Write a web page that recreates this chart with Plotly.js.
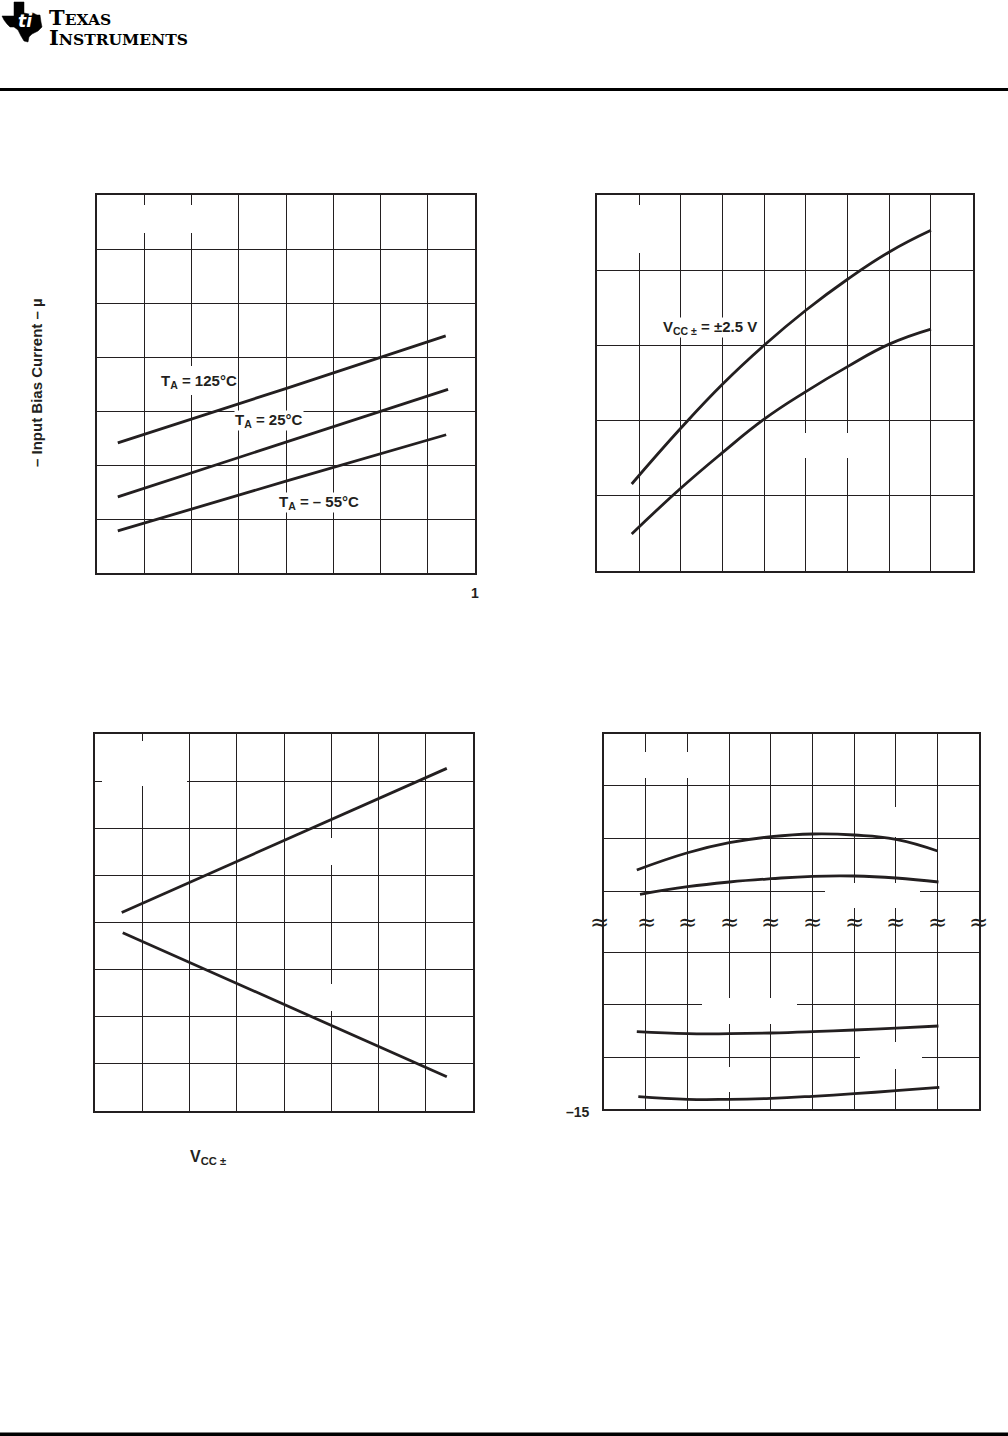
<!DOCTYPE html>
<html>
<head>
<meta charset="utf-8">
<script src="https://cdn.plot.ly/plotly-3.0.1.min.js"></script>
<style>
  html, body { margin: 0; padding: 0; background: #fff; }
  #page { width: 1008px; height: 1436px; }
</style>
</head>
<body>
<div id="page"></div>
<script>
// ---------------- data ----------------
// Chart 1 (top-left): input bias current vs. x, three temperatures
const c1_x125 = [0.44, 4.01, 7.38];
const c1_y125 = [2.41, 3.42, 4.39];
const c1_x25  = [0.44, 4.00, 7.43];
const c1_y25  = [1.41, 2.43, 3.40];
const c1_x55  = [0.44, 4.00, 7.39];
const c1_y55  = [0.78, 1.70, 2.56];
const c1_labels = ["T<sub>A</sub> = 125°C", "T<sub>A</sub> = 25°C", "T<sub>A</sub> = – 55°C"];

// Chart 2 (top-right): two rising curves
const c2_x      = [0.825, 2, 3, 4, 5, 6, 7, 8];
const c2_upper  = [1.154, 1.895, 2.481, 3.000, 3.466, 3.879, 4.242, 4.530];
const c2_lower  = [0.489, 1.097, 1.571, 2.016, 2.383, 2.716, 3.015, 3.215];
const c2_label  = "V<sub>CC ±</sub> = ±2.5 V";

// Chart 3 (bottom-left): one rising and one falling line
const c3_xUp   = [0.571, 7.44];
const c3_yUp   = [4.21, 7.27];
const c3_xDown = [0.592, 7.44];
const c3_yDown = [3.78, 0.72];
const c3_xlabel = "V<sub>CC ±</sub>";

// Chart 4 (bottom-right): broken y axis, four curves
const c4_gridY = [1.0, 2.008, 3.002, 4.174, 5.182, 6.182];
const c4_xA = [0.78, 2, 3, 4, 5, 6, 7, 8.0];
const c4_yA = [4.576, 4.906, 5.098, 5.212, 5.264, 5.245, 5.163, 4.939];
const c4_xB = [0.857, 2, 3, 4, 5, 6, 7, 8.02];
const c4_yB = [4.111, 4.256, 4.346, 4.409, 4.455, 4.461, 4.423, 4.346];
const c4_xC = [0.78, 2, 3, 4, 5, 6, 7, 8.02];
const c4_yC = [1.484, 1.446, 1.446, 1.459, 1.484, 1.516, 1.554, 1.593];
const c4_xD = [0.816, 2, 3, 4, 5, 6, 7, 8.04];
const c4_yD = [0.241, 0.191, 0.191, 0.210, 0.249, 0.298, 0.356, 0.421];
const c4_tickLabel = "–15";

const c1_tickLabel = "1";
const yTitle1 = "– Input Bias Current – µ";

// ---------------- page geometry ----------------
const W = 1008, H = 1436;
const px = x => x / W;
const py = y => 1 - y / H;

const F = {
  c1: {x0: 97,    x1: 475,   y0: 195, y1: 573,    xr: [0, 8], yr: [0, 7]},
  c2: {x0: 597.3, x1: 972.7, y0: 195, y1: 570.7,  xr: [0, 9], yr: [0, 5]},
  c3: {x0: 94.7,  x1: 473.3, y0: 734, y1: 1110.7, xr: [0, 8], yr: [0, 8]},
  c4: {x0: 604.3, x1: 979.3, y0: 734, y1: 1109.3, xr: [0, 9], yr: [0, 7.176]}
};
const dX = (f, p) => f.xr[0] + (p - f.x0) / (f.x1 - f.x0) * (f.xr[1] - f.xr[0]);
const dY = (f, p) => f.yr[0] + (f.y1 - p) / (f.y1 - f.y0) * (f.yr[1] - f.yr[0]);

const INK = '#231f20';

function xAx(f, anchor) {
  return {domain: [px(f.x0), px(f.x1)], range: f.xr, anchor: anchor,
    showgrid: true, gridcolor: INK, gridwidth: 1, tick0: 0, dtick: 1,
    showline: true, linecolor: INK, linewidth: 2, mirror: true,
    ticks: '', showticklabels: false, zeroline: false, fixedrange: true};
}
function yAx(f, anchor, extra) {
  return Object.assign({domain: [py(f.y1), py(f.y0)], range: f.yr, anchor: anchor,
    showgrid: true, gridcolor: INK, gridwidth: 1, tick0: 0, dtick: 1,
    showline: true, linecolor: INK, linewidth: 2, mirror: true,
    ticks: '', showticklabels: false, zeroline: false, fixedrange: true}, extra || {});
}

function curve(x, y, n, shape) {
  return {x: x, y: y, xaxis: 'x' + (n === 1 ? '' : n), yaxis: 'y' + (n === 1 ? '' : n),
    type: 'scatter', mode: 'lines', hoverinfo: 'skip', showlegend: false,
    line: {color: INK, width: 2.8, shape: shape || 'linear', smoothing: 1.3}};
}

const data = [
  curve(c1_x125, c1_y125, 1), curve(c1_x25, c1_y25, 1), curve(c1_x55, c1_y55, 1),
  curve(c2_x, c2_upper, 2, 'spline'), curve(c2_x, c2_lower, 2, 'spline'),
  curve(c3_xUp, c3_yUp, 3), curve(c3_xDown, c3_yDown, 3),
  curve(c4_xA, c4_yA, 4, 'spline'), curve(c4_xB, c4_yB, 4, 'spline'),
  curve(c4_xC, c4_yC, 4, 'spline'), curve(c4_xD, c4_yD, 4, 'spline')
];

// white knock-outs in the grid (erased text areas), pixel boxes per chart
function gap(key, n, x0, x1, y0, y1) {
  const f = F[key];
  const s = n === 1 ? '' : n;
  return {type: 'rect', xref: 'x' + s, yref: 'y' + s, layer: 'between',
    x0: dX(f, x0), x1: dX(f, x1), y0: dY(f, y1), y1: dY(f, y0),
    fillcolor: '#fff', line: {width: 0}};
}

const shapes = [
  gap('c1', 1, 100, 235, 205, 233),
  gap('c1', 1, 186, 196, 366, 395),
  gap('c2', 2, 630, 650, 205, 253),
  gap('c2', 2, 771, 860, 433, 458),
  gap('c3', 3, 102, 187, 741, 786),
  gap('c3', 3, 325, 336, 838, 865),
  gap('c3', 3, 325, 336, 984, 1011),
  gap('c4', 4, 640, 693, 752, 778),
  gap('c4', 4, 890, 900, 807, 837),
  gap('c4', 4, 825, 920, 883, 908),
  gap('c4', 4, 702, 797, 998, 1024),
  gap('c4', 4, 860, 922, 1042, 1069),
  gap('c4', 4, 724, 735, 1067, 1092),
  // header and footer rules
  {type: 'rect', xref: 'paper', yref: 'paper', x0: 0, x1: 1, y0: py(91), y1: py(88),
   fillcolor: '#000', line: {width: 0}},
  {type: 'rect', xref: 'paper', yref: 'paper', x0: 0, x1: 1, y0: py(1436), y1: py(1432.5),
   fillcolor: '#000', line: {width: 0}}
];

// TI logo silhouette (pixel outline converted to paper coords)
const logoPts = [[14,2],[24,2],[24,13],[29,14],[33,13],[37,15],[40,15],[41,22],[42,27],[38,31],
  [32,34],[29,37],[28,42],[24,41],[21,36],[18,30],[14,27],[10,27],[7,24],[4,20],[2,16],[14,16]];
let logoPath = 'M' + logoPts.map(p => px(p[0]).toFixed(5) + ',' + py(p[1]).toFixed(5)).join(' L') + ' Z';
shapes.push({type: 'path', xref: 'paper', yref: 'paper', path: logoPath,
  fillcolor: '#000', line: {color: '#000', width: 0.5}, layer: 'above'});

const BOLD = 'Liberation Sans, Arial, sans-serif';
function txt(x, y, text, opt) {
  return Object.assign({xref: 'paper', yref: 'paper', x: px(x), y: py(y), text: text,
    showarrow: false, xanchor: 'center', yanchor: 'middle',
    font: {family: BOLD, size: 15, color: INK, weight: 'bold'}}, opt || {});
}

const LOGOFONT = {family: 'DejaVu Serif, Liberation Serif, serif', size: 15.5, color: '#000', weight: 'bold'};
const annotations = [
  // logo
  txt(25, 21, '<i><b>ti</b></i>', {font: {family: 'DejaVu Sans', size: 17, color: '#fff', weight: 'bold'}}),
  txt(47, 17, '<span style="font-size:21px">T</span>EXAS', {xanchor: 'left', font: LOGOFONT}),
  txt(47, 37, '<span style="font-size:21px">I</span>NSTRUMENTS', {xanchor: 'left', font: LOGOFONT}),
  // chart 1
  txt(37, 383, yTitle1, {textangle: -90}),
  txt(199, 381, c1_labels[0], {bgcolor: '#fff', borderpad: 0}),
  txt(269, 420, c1_labels[1], {bgcolor: '#fff', borderpad: 0}),
  txt(319, 502, c1_labels[2], {bgcolor: '#fff', borderpad: 0}),
  txt(475, 593, c1_tickLabel, {font: {family: BOLD, size: 14, color: INK, weight: 'bold'}}),
  // chart 2
  txt(710, 327, c2_label, {bgcolor: '#fff', borderpad: 0}),
  // chart 3
  txt(208, 1157, c3_xlabel, {font: {family: BOLD, size: 16, color: INK, weight: 'bold'}}),
  // chart 4
  txt(592, 1112, c4_tickLabel, {xanchor: 'right', font: {family: BOLD, size: 14, color: INK, weight: 'bold'}})
];

// axis-break marks on chart 4
const breakPx = [599.3, 646.7, 687.3, 729.3, 770, 812.3, 854.3, 895.3, 937.7, 978.3];
breakPx.forEach(x => annotations.push(txt(x, 921.7, '≈',
  {font: {family: 'DejaVu Sans', size: 23, color: INK}})));

const layout = {
  width: W, height: H,
  margin: {l: 0, r: 0, t: 0, b: 0, pad: 0},
  paper_bgcolor: '#fff', plot_bgcolor: 'rgba(0,0,0,0)',
  showlegend: false,
  xaxis: xAx(F.c1, 'y'),   yaxis: yAx(F.c1, 'x'),
  xaxis2: xAx(F.c2, 'y2'), yaxis2: yAx(F.c2, 'x2'),
  xaxis3: xAx(F.c3, 'y3'), yaxis3: yAx(F.c3, 'x3'),
  xaxis4: xAx(F.c4, 'y4'), yaxis4: yAx(F.c4, 'x4', {tickmode: 'array', tickvals: c4_gridY}),
  shapes: shapes,
  annotations: annotations
};

Plotly.newPlot('page', data, layout, {staticPlot: true, displayModeBar: false});
</script>
</body>
</html>
